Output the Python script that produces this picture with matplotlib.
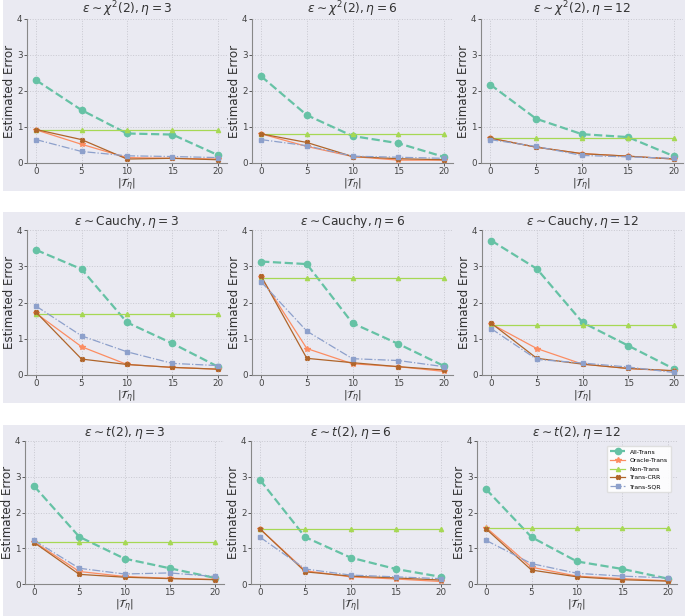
import matplotlib
matplotlib.use("Agg")
import matplotlib.pyplot as plt
from matplotlib.patches import Rectangle

x_vals = [0, 5, 10, 15, 20]
methods = ["All-Trans", "Oracle-Trans", "Non-Trans", "Trans-CRR", "Trans-SQR"]

titles = [
    r"$\varepsilon \sim \chi^2(2), \eta = 3$",
    r"$\varepsilon \sim \chi^2(2), \eta = 6$",
    r"$\varepsilon \sim \chi^2(2), \eta = 12$",
    r"$\varepsilon \sim \mathrm{Cauchy}, \eta = 3$",
    r"$\varepsilon \sim \mathrm{Cauchy}, \eta = 6$",
    r"$\varepsilon \sim \mathrm{Cauchy}, \eta = 12$",
    r"$\varepsilon \sim t(2), \eta = 3$",
    r"$\varepsilon \sim t(2), \eta = 6$",
    r"$\varepsilon \sim t(2), \eta = 12$",
]

all_trans = [
    [2.30, 1.47, 0.82, 0.79, 0.22],
    [2.41, 1.33, 0.75, 0.55, 0.17],
    [2.18, 1.23, 0.80, 0.72, 0.19],
    [3.45, 2.92, 1.45, 0.87, 0.23],
    [3.13, 3.06, 1.43, 0.86, 0.25],
    [3.71, 2.93, 1.45, 0.81, 0.17],
    [2.74, 1.32, 0.71, 0.44, 0.17],
    [2.91, 1.31, 0.74, 0.42, 0.20],
    [2.65, 1.31, 0.63, 0.42, 0.15],
]
oracle_trans = [
    [0.92, 0.52, 0.15, 0.13, 0.11],
    [0.81, 0.46, 0.18, 0.08, 0.08],
    [0.69, 0.44, 0.26, 0.19, 0.11],
    [1.70, 0.78, 0.29, 0.21, 0.16],
    [2.69, 0.73, 0.31, 0.23, 0.10],
    [1.41, 0.73, 0.30, 0.18, 0.11],
    [1.18, 0.35, 0.21, 0.16, 0.13],
    [1.54, 0.37, 0.20, 0.14, 0.07],
    [1.58, 0.47, 0.22, 0.15, 0.09],
]
non_trans = [0.93, 0.80, 0.69, 1.67, 2.67, 1.37, 1.18, 1.54, 1.56]
trans_crr = [
    [0.93, 0.65, 0.11, 0.13, 0.09],
    [0.81, 0.57, 0.18, 0.12, 0.09],
    [0.69, 0.44, 0.26, 0.19, 0.11],
    [1.73, 0.44, 0.29, 0.21, 0.16],
    [2.73, 0.46, 0.34, 0.23, 0.14],
    [1.43, 0.46, 0.30, 0.18, 0.12],
    [1.16, 0.27, 0.19, 0.15, 0.12],
    [1.54, 0.34, 0.22, 0.17, 0.11],
    [1.54, 0.39, 0.20, 0.12, 0.08],
]
trans_sqr = [
    [0.65, 0.32, 0.20, 0.18, 0.15],
    [0.65, 0.48, 0.19, 0.16, 0.13],
    [0.65, 0.46, 0.21, 0.17, 0.13],
    [1.90, 1.08, 0.64, 0.32, 0.26],
    [2.57, 1.21, 0.45, 0.40, 0.23],
    [1.28, 0.43, 0.33, 0.22, 0.07],
    [1.22, 0.44, 0.28, 0.31, 0.21],
    [1.31, 0.42, 0.25, 0.20, 0.15],
    [1.22, 0.57, 0.30, 0.22, 0.17],
]

W, H = 685, 616
fig = plt.figure(figsize=(W / 100, H / 100), dpi=100)
fig.patch.set_facecolor("white")
BG = "#EAEAF2"

# row bands (pixel top, bottom)
bands = [(0, 191), (212, 403), (425, 616)]
for top, bot in bands:
    fig.patches.append(Rectangle((3 / W, 1 - bot / H), (W - 3) / W, (bot - top) / H,
                                 transform=fig.transFigure, facecolor=BG,
                                 edgecolor="none", zorder=-10))

row_axes = [(19, 163), (230, 375), (441, 584)]
col_left = [[27, 252, 481], [27, 252, 482], [25, 251, 477]]
col_right = [[227, 453, 683], [227, 453, 683], [224, 450, 677]]

styles = {
    "All-Trans": dict(color="#66c2a5", ls="--", lw=1.6, marker="o", ms=4.5),
    "Oracle-Trans": dict(color="#fc8d62", ls="-", lw=0.9, marker="*", ms=4),
    "Non-Trans": dict(color="#a6d854", ls="-", lw=0.9, marker="^", ms=3),
    "Trans-CRR": dict(color="#b0652a", ls="-", lw=0.9, marker="X", ms=3),
    "Trans-SQR": dict(color="#8da0cb", ls="-.", lw=0.9, marker="s", ms=3),
}

for i in range(9):
    r, c = divmod(i, 3)
    top, bot = row_axes[r]
    l, rr = col_left[r][c], col_right[r][c]
    ax = fig.add_axes([l / W, 1 - bot / H, (rr - l) / W, (bot - top) / H])
    ax.set_facecolor(BG)
    series = {
        "All-Trans": all_trans[i],
        "Oracle-Trans": oracle_trans[i],
        "Non-Trans": [non_trans[i]] * len(x_vals),
        "Trans-CRR": trans_crr[i],
        "Trans-SQR": trans_sqr[i],
    }
    for m in methods:
        ax.plot(x_vals, series[m], label=m, **styles[m])
    ax.set_xlim(-1, 21)
    ax.set_ylim(0, 4)
    ax.set_xticks(x_vals)
    ax.set_yticks([0, 1, 2, 3, 4])
    ax.grid(True, ls=":", color="#c8c8d0", lw=0.7)
    ax.set_axisbelow(True)
    for s in ["top", "right"]:
        ax.spines[s].set_visible(False)
    for s in ["left", "bottom"]:
        ax.spines[s].set_color("#888888")
        ax.spines[s].set_linewidth(0.8)
    ax.tick_params(labelsize=6.3, colors="#444444", length=2, width=0.6, pad=1.2)
    ax.set_title(titles[i], fontsize=8.8, pad=0.5, color="#333333")
    ax.set_ylabel("Estimated Error", fontsize=8.6, color="#333333", labelpad=1)
    ax.set_xlabel(r"$|\mathcal{T}_\eta|$", fontsize=8.0, color="#333333", labelpad=0.2)
    if i == 8:
        leg = ax.legend(loc="upper right", fontsize=4.4, frameon=True,
                        facecolor="white", edgecolor="#dddddd", framealpha=0.9,
                        handlelength=2.4, borderpad=0.5, labelspacing=0.55,
                        bbox_to_anchor=(0.985, 0.985))

fig.savefig("out.png", dpi=100, facecolor="white")
